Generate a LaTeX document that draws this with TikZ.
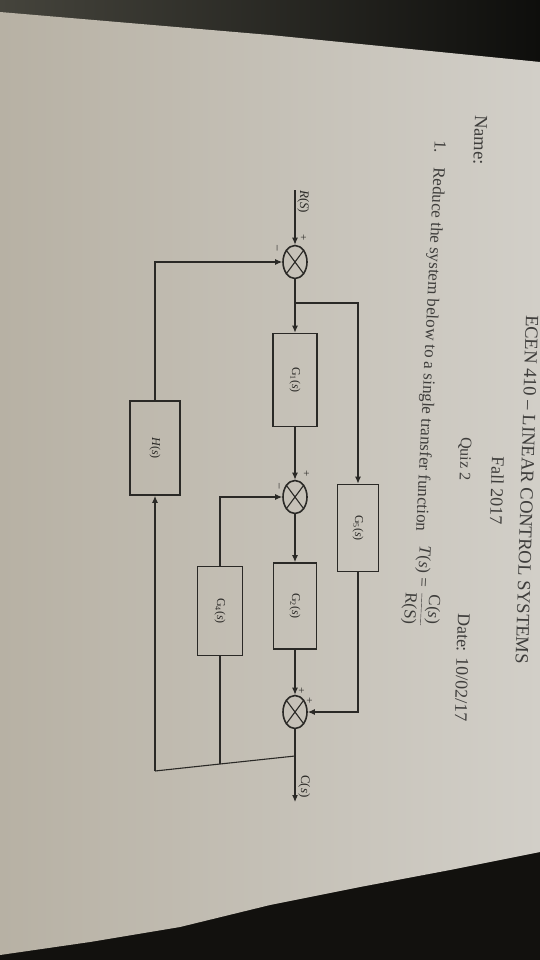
\documentclass[tikz,border=0pt]{standalone}
\usepackage{fontspec}
\usepackage{graphicx}
\setmainfont{Liberation Serif}
\usetikzlibrary{arrows.meta,shapes.geometric}
\definecolor{ink}{HTML}{2A2926}
\definecolor{bgdark}{HTML}{12110E}
\definecolor{topl}{HTML}{45443C}
\definecolor{topr}{HTML}{0E0E0C}
\definecolor{paperL}{HTML}{B7B1A4}
\definecolor{paperR}{HTML}{D2CFC8}
\begin{document}
\begin{tikzpicture}[x=1pt,y=-1pt,
  ln/.style={draw=ink, line width=1.1pt},
  arr/.style={draw=ink, line width=1.1pt, -{Latex[length=7pt,width=6pt]}},
  blk/.style={draw=ink, line width=1.7pt, inner sep=0pt, text=ink,
    font=\fontsize{12}{12}\selectfont},
  sumj/.style={draw=ink, line width=1.6pt, ellipse, inner sep=0pt,
    minimum width=24pt, minimum height=33pt},
  sgn/.style={rotate=-90, inner sep=0pt, text=ink, font=\fontsize{11}{11}\selectfont},
  lab/.style={rotate=-90, inner sep=0pt, text=ink, anchor=base west,
    font=\fontsize{13}{13}\selectfont},
  hdr/.style={rotate=-91.7, inner sep=0pt, text=ink!90, anchor=base west},
  qtx/.style={rotate=-92.8, inner sep=0pt, text=ink!90, anchor=base west,
    font=\fontsize{17}{19}\selectfont}]
\useasboundingbox (0,0) rectangle (540,960);
% photo background
\fill[bgdark] (0,0) rectangle (540,960);
\shade[left color=topl, right color=topr] (0,0) rectangle (540,80);
\shade[left color=paperL, right color=paperR]
  (0,12) -- (270,35) -- (540,62) -- (540,852) -- (450,870) -- (360,887)
  -- (270,905) -- (180,927) -- (90,942) -- (0,955) -- cycle;

% header texts
\node[hdr, font=\fontsize{18.6}{20}\selectfont] (title) at (526,315) {ECEN 410 – LINEAR CONTROL SYSTEMS};
\node[hdr, font=\fontsize{18}{20}\selectfont] (fall) at (492,456) {Fall 2017};
\node[hdr, font=\fontsize{16}{18}\selectfont] (quiz) at (461,437) {Quiz 2};
\node[hdr, font=\fontsize{18.5}{20}\selectfont] (name) at (475,115) {Name:};
\node[hdr, font=\fontsize{17.9}{20}\selectfont] (date) at (458,613) {Date: 10/02/17};
\node[qtx] (num) at (435,140) {1.};
\node[qtx] (task) at (434,167) {Reduce the system below to a single transfer function};
\node[qtx] (tf) at (420,545) {\textit{T}(\textit{s}) = $\displaystyle\frac{\mbox{C(\textit{s})}}{\mbox{R(S)}}$};

% summing junctions
\node[sumj] (s1) at (295,262) {};
\node[sumj] (s2) at (295,497) {};
\node[sumj] (s3) at (295,712) {};
\foreach \s in {s1,s2,s3}{
  \draw[ln] (\s.north west) -- (\s.south east) (\s.north east) -- (\s.south west);
}

% blocks
\node[blk, minimum width=44pt, minimum height=93pt] (G1) at (295,380) {\rotatebox{-90}{G\textsubscript{1}(\textit{s})}};
\node[blk, minimum width=43pt, minimum height=86pt] (G2) at (295,606) {\rotatebox{-90}{G\textsubscript{2}(\textit{s})}};
\node[blk, minimum width=41pt, minimum height=87pt] (G5) at (358,528) {\rotatebox{-90}{G\textsubscript{5}(\textit{s})}};
\node[blk, minimum width=45pt, minimum height=89pt] (G4) at (220,611) {\rotatebox{-90}{G\textsubscript{4}(\textit{s})}};
\node[blk, minimum width=50pt, minimum height=94pt] (H) at (155,448) {\rotatebox{-90}{\textit{H}(\textit{s})}};

% points on the wires
\coordinate (in) at (295,190);
\coordinate (b1) at (295,303);
\coordinate (bo) at (295,756);
\coordinate (c4) at (220,764);
\coordinate (cH) at (155,771);
\coordinate (out) at (295,802);

% wires
\draw[arr] (in) -- (s1.north);
\draw[arr] (s1.south) -- (G1.north);
\draw[arr] (b1) -| (G5.north);
\draw[arr] (G1.south) -- (s2.north);
\draw[arr] (s2.south) -- (G2.north);
\draw[arr] (G2.south) -- (s3.north);
\draw[arr] (G5.south) |- (s3.east);
\draw[arr] (s3.south) -- (out);
\draw[ln] (bo) -- (c4) -- (cH);
\draw[arr] (cH) -- (H.south);
\draw[arr] (H.north) |- (s1.west);
\draw[ln] (c4) -- (G4.south);
\draw[arr] (G4.north) |- (s2.west);

% signs and signal labels
\node[sgn] (p1) at (303,238) {+};
\node[sgn] (m1) at (276,248) {–};
\node[sgn] (p2) at (306,474) {+};
\node[sgn] (m2) at (278,486) {–};
\node[sgn] (p3a) at (301,691) {+};
\node[sgn] (p3b) at (309,701) {+};
\node[lab] (rlab) at (300,190) {\textit{R}(\textit{S})};
\node[lab] (clab) at (301,775) {C(\textit{s})};
\end{tikzpicture}
\end{document}
